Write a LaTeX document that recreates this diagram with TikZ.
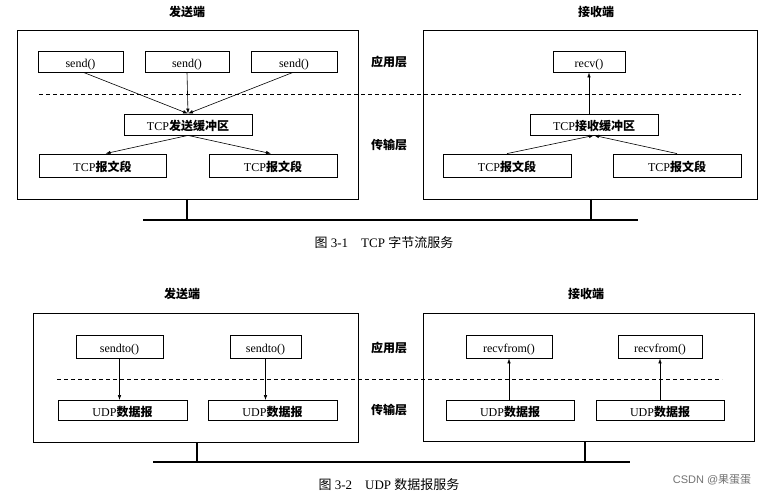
\documentclass[tikz,border=0pt]{standalone}
\usepackage{fontspec}
\usetikzlibrary{arrows.meta}
\setmainfont{Liberation Serif}
\newfontfamily\cjk{Noto Sans CJK SC}
\begin{document}
\begin{tikzpicture}[x=1pt,y=-1pt,
  bx/.style={draw,line width=0.8pt,inner sep=0pt,text height=13pt,text depth=0pt,font=\fontsize{12}{13}\selectfont},
  outer/.style={draw,line width=0.8pt},
  lbl/.style={font=\cjk\bfseries\fontsize{12}{13}\selectfont},
  arr/.style={-{Latex[length=5pt,width=3.5pt]},line width=0.6pt},
  dsh/.style={dashed,line width=0.7pt,dash pattern=on 4pt off 3pt},
  bus/.style={line width=2.4pt}]
\useasboundingbox (0,0) rectangle (772,497);
\fill[white] (0,0) rectangle (772,497);
% ---- Figure 3-1
\node[lbl] (s1) at (187,12) {发送端};
\node[lbl] (r1) at (596,12) {接收端};
\draw[outer] (17,30) rectangle (358,199);
\draw[outer] (423,30) rectangle (757,199);
\draw[dsh] (39,94) -- (741,94);
\node[lbl] (al1) at (389,62) {应用层};
\node[lbl] (tl1) at (389,145) {传输层};
\node[bx,minimum width=85,minimum height=21] (sa) at (80.5,61.5) {send()};
\node[bx,minimum width=84,minimum height=21] (sb) at (187,61.5) {send()};
\node[bx,minimum width=86,minimum height=21] (sc) at (294,61.5) {send()};
\node[bx,minimum width=128,minimum height=21] (sbuf) at (188,124.5) {TCP{\cjk\bfseries 发送缓冲区}};
\node[bx,minimum width=127,minimum height=23] (sg1) at (102.5,165.5) {TCP{\cjk\bfseries 报文段}};
\node[bx,minimum width=128,minimum height=23] (sg2) at (273,165.5) {TCP{\cjk\bfseries 报文段}};
\draw[arr] ([xshift=3pt]sa.south) -- (sbuf.north);
\draw[arr] (sb.south) -- (sbuf.north);
\draw[arr] ([xshift=-1pt]sc.south) -- (sbuf.north);
\draw[arr] (sbuf.south) -- ([xshift=3pt]sg1.north);
\draw[arr] (sbuf.south) -- ([xshift=-2pt]sg2.north);
\node[bx,minimum width=72,minimum height=21] (rv) at (589,61.5) {recv()};
\node[bx,minimum width=128,minimum height=21] (rbuf) at (594,124.5) {TCP{\cjk\bfseries 接收缓冲区}};
\node[bx,minimum width=128,minimum height=23] (rg1) at (507,165.5) {TCP{\cjk\bfseries 报文段}};
\node[bx,minimum width=128,minimum height=23] (rg2) at (677,165.5) {TCP{\cjk\bfseries 报文段}};
\draw[arr] (rg1.north) -- (rbuf.south);
\draw[arr] (rg2.north) -- (rbuf.south);
\draw[arr] (rbuf.north -| rv.south) -- (rv.south);
\coordinate (b1) at (187,199); \coordinate (b1e) at (187,220);
\coordinate (b2) at (591,199); \coordinate (b2e) at (591,220);
\draw[line width=1.5pt] (b1) -- (b1e);
\draw[line width=1.5pt] (b2) -- (b2e);
\draw[bus] (143,220) -- (638,220);
\node[font=\fontsize{13}{14}\selectfont] (c1) at (384,243) {{\cjk 图} 3-1\quad TCP {\cjk 字节流服务}};
% ---- Figure 3-2
\node[lbl] (s2) at (182,294) {发送端};
\node[lbl] (r2) at (586,294) {接收端};
\draw[outer] (33,313) rectangle (358,442);
\draw[outer] (423,313) rectangle (754,441);
\draw[dsh] (57,379) -- (722,379);
\node[lbl] (al2) at (389,348) {应用层};
\node[lbl] (tl2) at (389,410) {传输层};
\node[bx,minimum width=87,minimum height=23] (st1) at (119.5,346.5) {sendto()};
\node[bx,minimum width=71,minimum height=23] (st2) at (265.5,346.5) {sendto()};
\node[bx,minimum width=129,minimum height=20] (u1) at (122.5,410.5) {UDP{\cjk\bfseries 数据报}};
\node[bx,minimum width=129,minimum height=20] (u2) at (272.5,410.5) {UDP{\cjk\bfseries 数据报}};
\node[bx,minimum width=86,minimum height=23] (rf1) at (509,346.5) {recvfrom()};
\node[bx,minimum width=84,minimum height=23] (rf2) at (660,346.5) {recvfrom()};
\node[bx,minimum width=128,minimum height=20] (u3) at (510,410.5) {UDP{\cjk\bfseries 数据报}};
\node[bx,minimum width=128,minimum height=20] (u4) at (660,410.5) {UDP{\cjk\bfseries 数据报}};
\draw[arr] (st1.south) -- (u1.north -| st1.south);
\draw[arr] (st2.south) -- (u2.north -| st2.south);
\draw[arr] (u3.north -| rf1.south) -- (rf1.south);
\draw[arr] (u4.north -| rf2.south) -- (rf2.south);
\coordinate (b3) at (197,442); \coordinate (b3e) at (197,462);
\coordinate (b4) at (585,441); \coordinate (b4e) at (585,462);
\draw[line width=1.5pt] (b3) -- (b3e);
\draw[line width=1.5pt] (b4) -- (b4e);
\draw[bus] (153,462) -- (630,462);
\node[font=\fontsize{13}{14}\selectfont] (c2) at (389,485) {{\cjk 图} 3-2\quad UDP {\cjk 数据报服务}};
\node[font=\fontsize{11}{12}\selectfont,text=black!55] (wm) at (712,480) {\fontspec{Liberation Sans}CSDN @{\cjk 果蛋蛋}};
\end{tikzpicture}
\end{document}
